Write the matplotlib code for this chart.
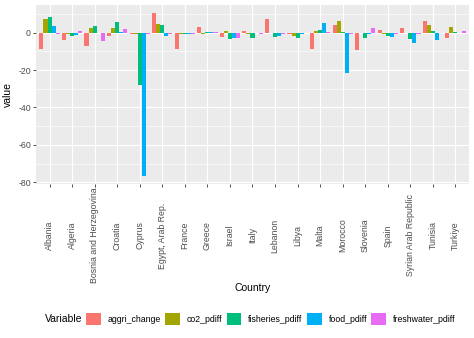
import matplotlib
matplotlib.use("Agg")
import matplotlib.pyplot as plt
from matplotlib.patches import Patch
import numpy as np

countries = ["Albania", "Algeria", "Bosnia and Herzegovina", "Croatia", "Cyprus",
             "Egypt, Arab Rep.", "France", "Greece", "Israel", "Italy", "Lebanon",
             "Libya", "Malta", "Morocco", "Slovenia", "Spain", "Syrian Arab Republic",
             "Tunisia", "Turkiye"]
variables = ["aggri_change", "co2_pdiff", "fisheries_pdiff", "food_pdiff", "freshwater_pdiff"]
colors = ["#F8766D", "#A3A500", "#00BF7D", "#00B0F6", "#E76BF3"]

aggri_change = [-8.7, -3.9, -7.0, -2.0, -1.0, 10.5, -9.0, 3.2, -2.1, 1.0, 7.3,
                -1.0, -8.8, 4.3, -9.1, 1.5, 2.6, 6.0, -2.7]
co2_pdiff = [7.3, -1.0, 2.3, 2.7, -1.0, 4.6, -0.5, -0.5, 0.9, -1.0, 0.0,
             -1.6, 0.7, 6.0, 0.0, -0.5, -0.3, 4.1, 2.9]
fisheries_pdiff = [8.2, -2.0, 3.5, 5.8, -27.8, 4.3, -1.0, 0.5, -3.4, -2.9, -2.1,
                   -2.9, 1.6, 0.5, -2.9, -1.8, -3.4, 0.8, 0.5]
food_pdiff = [3.7, -1.2, 0.0, 0.5, -76.8, -2.0, -1.0, 0.5, -3.0, -0.3, -1.6,
              -1.0, 5.2, -21.4, -0.5, -2.5, -5.7, -3.9, 0.0]
freshwater_pdiff = [-1.0, 1.0, -4.5, 2.0, -0.7, -0.5, -1.0, 0.5, -2.9, -0.7, -1.0,
                    0.0, 0.5, -1.0, 2.3, -0.8, -1.0, 0.0, 1.0]
series = [aggri_change, co2_pdiff, fisheries_pdiff, food_pdiff, freshwater_pdiff]

plt.rcParams["font.family"] = ["Liberation Sans", "DejaVu Sans"]

W, H = 474, 338
fig = plt.figure(figsize=(W / 100, H / 100), dpi=100)
ax = fig.add_axes([36 / W, 1 - 184.5 / H, (469 - 36) / W, (184.5 - 4.8) / H])
ax.set_facecolor("#EBEBEB")
for s in ax.spines.values():
    s.set_visible(False)

x = np.arange(len(countries))
n = len(variables)
bw = 0.9 / n
for k, (vals, col) in enumerate(zip(series, colors)):
    off = -0.45 + bw * (k + 0.5)
    ax.bar(x + off, vals, width=bw, color=col, linewidth=0, zorder=3)

allv = np.concatenate([np.array(v) for v in series])
lo, hi = min(allv.min(), 0), max(allv.max(), 0)
pad = 0.05 * (hi - lo)
ax.set_ylim(lo - pad, hi + pad)
ax.set_xlim(-0.6, len(countries) - 0.4)

yt = [-80, -60, -40, -20, 0]
ax.set_yticks(yt)
ax.set_yticklabels([str(v) for v in yt])
ax.set_yticks([-70, -50, -30, -10, 10], minor=True)
ax.set_xticks(x)
ax.set_xticklabels(countries, rotation=90, va="center", ha="center")

ax.grid(True, which="major", color="white", linewidth=0.8, zorder=0)
ax.grid(True, which="minor", axis="y", color="white", linewidth=0.4, zorder=0)
ax.set_axisbelow(True)

ax.tick_params(axis="both", which="major", length=2.2, width=0.6, color="#333333",
               labelsize=6.3, labelcolor="#4D4D4D")
ax.tick_params(axis="y", which="major", pad=1.5)
ax.tick_params(axis="x", which="major", pad=34.5)
ax.tick_params(which="minor", length=0)

ax.set_ylabel("value", fontsize=7.5, labelpad=4)
fig.text(252.5 / W, 1 - 288 / H, "Country", fontsize=7.5, ha="center", va="center")

fig.text(45 / W, 1 - 319 / H, "Variable", fontsize=7.5, ha="left", va="center")
handles = [Patch(facecolor=c, edgecolor="none") for c in colors]
fig.legend(handles, variables, loc="center left", bbox_to_anchor=(86 / W, 1 - 319 / H),
           ncol=5, frameon=False, fontsize=6.3, handlelength=1.7, handleheight=1.7,
           handletextpad=0.8, columnspacing=0.45, borderpad=0, borderaxespad=0)

fig.savefig("out.png", dpi=100)
